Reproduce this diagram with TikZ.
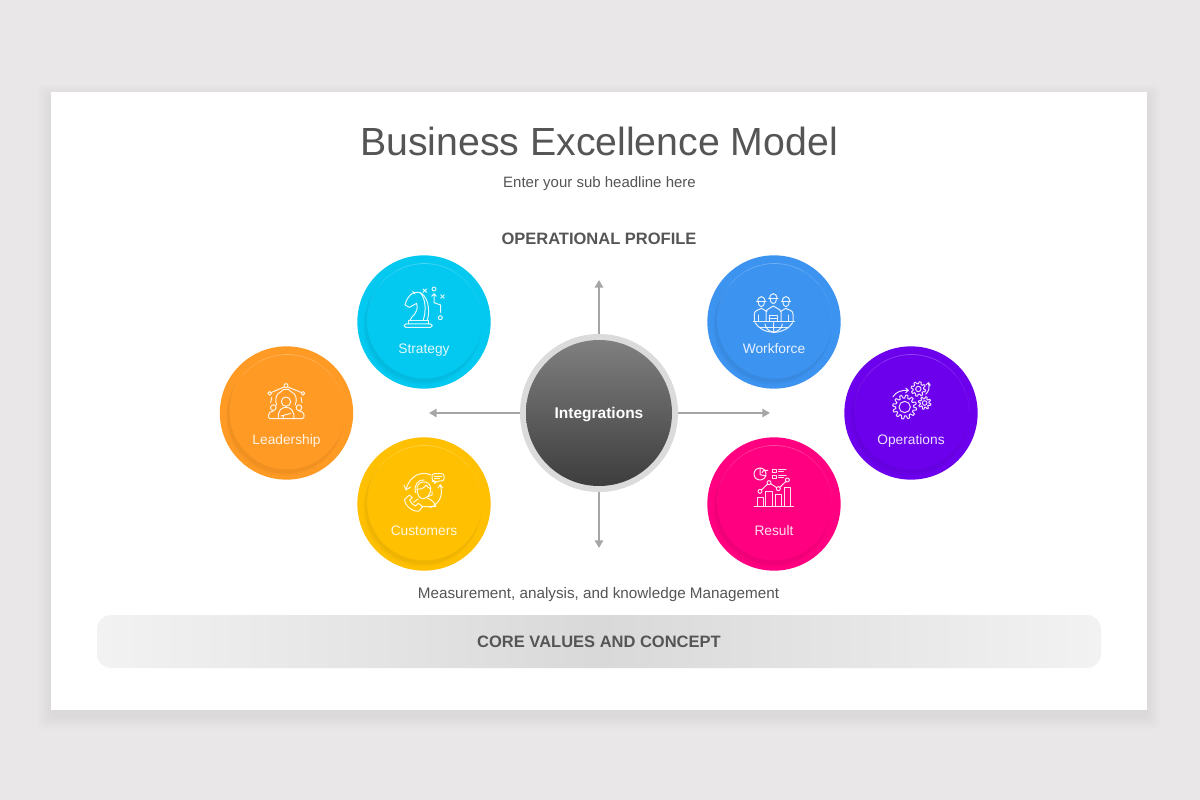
\documentclass[tikz,border=0pt]{standalone}
\usepackage{fontspec}
\setmainfont{Liberation Sans}
\usetikzlibrary{arrows.meta}
\definecolor{pagebg}{HTML}{E9E7E8}
\definecolor{ink}{HTML}{555555}
\definecolor{cStrategy}{HTML}{03C8EF}
\definecolor{cLeader}{HTML}{FF9A24}
\definecolor{cCustomer}{HTML}{FFC001}
\definecolor{cWork}{HTML}{3C93F0}
\definecolor{cOper}{HTML}{6C00EC}
\definecolor{cResult}{HTML}{FF0080}
\definecolor{arrowgrey}{HTML}{A6A6A6}
\tikzset{
  x=0.6pt,y=-0.6pt,
  disc/.style={circle,draw=none,inner sep=0pt,outer sep=0pt,minimum size=80pt,fill=#1},
  label text/.style={text=white,font=\fontsize{8.25pt}{10pt}\selectfont,inner sep=0pt,opacity=.88,anchor=base},
  conn/.style={draw=arrowgrey,line width=1.1pt,-{Triangle[length=4.6pt,width=5pt]}},
  icon/.style={draw=white,draw opacity=.88,line width=.6pt,line cap=round,line join=round,fill=none},
  heading/.style={text=ink,inner sep=0pt},
}
% colour name, centre x, centre y, node name, label
\newcommand{\spoke}[5]{%
  \node[disc=#1] (#4) at (#2,#3) {};
  \fill[#1!86!black,opacity=.18] (#2-1.5,#3+3.5) circle[radius=59];
  \fill[#1!86!black,opacity=.28] (#2-1,#3+2.5) circle[radius=58];
  \fill[#1] (#2+.5,#3-1) circle[radius=57.5];
  \foreach \s/\o in {0/.04,20/.08,40/.14,60/.22,80/.28,100/.22,120/.14,140/.08,160/.04}
    \draw[white,opacity=\o,line width=.45pt] ({#2+.5+57.5*cos(\s)},{#3-1-57.5*sin(\s)})
      arc[start angle=\s,end angle=\s+20,x radius=57.5,y radius=-57.5];
  \node[label text] (#4-label) at (#2,#3+31) {#5};
}
\newcommand{\gearshape}[5]{% x y inner outer teeth
  \begin{scope}[shift={(#1,#2)}]
    \foreach \k in {1,...,#5}{
      \pgfmathsetmacro{\aa}{360/#5*\k}
      \pgfmathsetmacro{\st}{360/#5}
      \draw[icon] (\aa:#3) -- (\aa+.18*\st:#4) -- (\aa+.5*\st:#4) -- (\aa+.68*\st:#3) -- (\aa+\st:#3);
    }
  \end{scope}
}
\begin{document}
\begin{tikzpicture}
\useasboundingbox (0,0) rectangle (1200,800);
\fill[pagebg] (0,0) rectangle (1200,800);
% card shadow
\foreach \d in {1,...,14}
  \fill[black,opacity=.0055,rounded corners=4pt] (51-\d,92-\d+6) rectangle (1147+\d,710+\d+6);
\node[fill=white,inner sep=0pt,outer sep=0pt,minimum width=657.6pt,minimum height=370.8pt] (card) at (599,401) {};

\node[heading,font=\fontsize{23.55pt}{28pt}\selectfont] (title) at (599,141) {Business Excellence Model};
\node[heading,font=\fontsize{9pt}{11pt}\selectfont] (sub) at (599.5,183.5) {Enter your sub headline here};
\node[heading,font=\bfseries\fontsize{9.9pt}{12pt}\selectfont] (profile) at (599,238.5) {OPERATIONAL PROFILE};
\node[heading,font=\fontsize{9.15pt}{11pt}\selectfont] (measure) at (598.5,595) {Measurement, analysis, and knowledge Management};

% bar
\shade[rounded corners=8.5pt,left color=gray!10,right color=gray!10,middle color=gray!30] (97,615) rectangle (1101,668);
\node[heading,font=\bfseries\fontsize{9.9pt}{12pt}\selectfont] (core) at (599,642) {CORE VALUES AND CONCEPT};

% hub
\node[disc=black!14,minimum size=94.8pt] (ring) at (599,413) {};
\node[circle,inner sep=0pt,outer sep=0pt,minimum size=87.6pt,top color=black!50,bottom color=black!76,text=white,text height=6.6pt,text depth=0pt,font=\bfseries\fontsize{9.3pt}{11pt}\selectfont] (hub) at (599,413) {Integrations};

% arrows
\coordinate (upEnd) at (599,280);
\coordinate (downEnd) at (599,548);
\coordinate (leftEnd) at (429,413);
\coordinate (rightEnd) at (770,413);
\draw[conn] (ring.north) -- (upEnd);
\draw[conn] (ring.south) -- (downEnd);
\draw[conn] (ring.west) -- (leftEnd);
\draw[conn] (ring.east) -- (rightEnd);

% spokes
\spoke{cStrategy}{424}{322}{strategy}{Strategy}
\spoke{cLeader}{286.5}{413}{leadership}{Leadership}
\spoke{cCustomer}{424}{504}{customers}{Customers}
\spoke{cWork}{774}{322}{workforce}{Workforce}
\spoke{cOper}{911}{413}{operations}{Operations}
\spoke{cResult}{774}{504}{result}{Result}

% ---- Strategy icon
\begin{scope}[shift={(350,250)},x=.2pt,y=-.2pt]
 \draw[icon,rounded corners=1pt] (162,222) rectangle (247,232);
 \draw[icon] (175,222) -- (175,211) -- (235,211) -- (235,222);
 \draw[icon] (180,211) .. controls (182,198) and (208,192) .. (200,160) -- (178,172) -- (165,165) .. controls (168,148) and (180,132) .. (192,128) -- (207,127) .. controls (232,135) and (242,175) .. (232,211);
 \draw[icon] (188,124) -- (195,132);
 \draw[icon] (212,128) .. controls (228,150) and (228,185) .. (220,209);
 \draw[icon] (219,117) -- (230,127) (230,117) -- (219,127);
 \draw[icon] (272,134) -- (283,145) (283,134) -- (272,145);
 \draw[icon] (252,117) circle[radius=6];
 \draw[icon] (271,203) circle[radius=6];
 \draw[icon] (272,188) -- (272,165) -- (252,158) -- (252,131) (245,139) -- (252,131) -- (259,139);
\end{scope}
% ---- Leadership icon
\begin{scope}[shift={(215,340)},x=.2pt,y=-.2pt]
 \draw[icon] (213,137) circle[radius=6];
 \draw[icon] (164,160) circle[radius=5.5];
 \draw[icon] (264,160) circle[radius=5.5];
 \draw[icon] (170,157) -- (207,141) (219,141) -- (258,157);
 \draw[icon] (170,172) -- (167,188) (258,172) -- (261,188);
 \draw[icon] (185,195) .. controls (178,175) and (185,160) .. (198,155) -- (206,148) -- (220,148) -- (228,155) .. controls (242,160) and (248,175) .. (241,195);
 \draw[icon] (213,185) circle[radius=14];
 \draw[icon] (190,236) .. controls (188,210) and (200,202) .. (213,202) .. controls (226,202) and (238,210) .. (237,236) -- cycle;
 \draw[icon] (198,228) -- (228,220) (205,236) -- (205,226);
 \draw[icon] (175,203) circle[radius=8.5];
 \draw[icon] (252,203) circle[radius=8.5];
 \draw[icon] (190,236) -- (165,236) .. controls (158,236) and (157,213) .. (175,213);
 \draw[icon] (237,236) -- (262,236) .. controls (270,236) and (271,213) .. (252,213);
\end{scope}
% ---- Customers icon
\begin{scope}[shift={(350,430)},x=.2pt,y=-.2pt]
 \draw[icon] (243,135) .. controls (215,122) and (180,135) .. (168,178);
 \draw[icon] (162,165) -- (168,180) -- (182,171);
 \draw[icon] (271,166) .. controls (280,195) and (270,220) .. (240,233);
 \draw[icon] (264,174) -- (271,164) -- (278,174);
 \draw[icon,rounded corners=1.5pt] (246,131) -- (282,131) -- (282,153) -- (262,153) -- (254,160) -- (254,153) -- (246,153) -- cycle;
 \draw[icon] (253,139) -- (275,139) (253,146) -- (268,146);
 \draw[icon] (201,178) .. controls (198,155) and (235,145) .. (242,172) .. controls (244,195) and (228,207) .. (218,206) .. controls (208,205) and (202,195) .. (201,178);
 \draw[icon] (201,178) .. controls (215,178) and (225,172) .. (228,165) .. controls (232,172) and (238,175) .. (242,176);
 \draw[icon] (197,188) .. controls (190,165) and (205,148) .. (222,150);
 \draw[icon] (246,185) -- (246,195) -- (232,200);
 \draw[icon] (205,207) -- (190,217) (232,204) .. controls (250,212) and (255,220) .. (258,230) -- (215,230);
 \draw[icon] (178,195) -- (164,208) .. controls (162,225) and (190,248) .. (207,243) -- (218,230) -- (205,220) -- (196,228) .. controls (188,224) and (182,218) .. (179,210) -- (187,203) -- cycle;
\end{scope}
% ---- Workforce icon
\begin{scope}[shift={(700,250)},x=.2pt,y=-.2pt]
 \draw[icon] (160,215) -- (283,215);
 \draw[icon] (165,218) .. controls (175,235) and (198,247) .. (221,247) .. controls (245,247) and (268,235) .. (278,218);
 \draw[icon] (221,218) -- (221,247) (195,222) .. controls (197,235) and (205,243) .. (221,247) .. controls (237,243) and (245,235) .. (247,222);
 \draw[icon] (180,234) -- (262,234);
 \foreach \hx/\hy in {184/157,258/157,220/148}{
   \draw[icon] (\hx-14,\hy-2) -- (\hx+14,\hy-2);
   \draw[icon] (\hx-11,\hy-2) .. controls (\hx-11,\hy-22) and (\hx+11,\hy-22) .. (\hx+11,\hy-2);
   \draw[icon] (\hx-9,\hy-2) .. controls (\hx-9,\hy+18) and (\hx+9,\hy+18) .. (\hx+9,\hy-2);
 }
 \draw[icon] (163,214) -- (163,192) .. controls (163,180) and (178,180) .. (184,175) .. controls (190,180) and (197,180) .. (201,185);
 \draw[icon] (279,214) -- (279,192) .. controls (279,180) and (264,180) .. (258,175) .. controls (252,180) and (245,180) .. (241,185);
 \draw[icon] (198,214) -- (198,185) .. controls (200,176) and (212,175) .. (220,168) .. controls (228,175) and (240,176) .. (243,185) -- (243,214);
 \draw[icon] (207,214) -- (207,196) -- (233,196) -- (233,214) (176,214) -- (176,195) (266,214) -- (266,195) (207,205) -- (233,205);
\end{scope}
% ---- Operations icon
\begin{scope}[shift={(838,340)},x=.2pt,y=-.2pt]
 \gearshape{200}{201}{27}{36}{12}
 \draw[icon] (200,201) circle[radius=17];
 \gearshape{241}{147}{16}{22}{8}
 \draw[icon] (241,147) circle[radius=8];
 \gearshape{260}{189}{13}{19}{8}
 \draw[icon] (260,189) circle[radius=7];
 \draw[icon] (165,170) .. controls (175,155) and (190,150) .. (210,151) (203,144) -- (211,151) -- (203,158);
 \draw[icon] (263,163) .. controls (272,155) and (276,142) .. (271,129) (264,135) -- (271,128) -- (277,136);
\end{scope}
% ---- Result icon
\begin{scope}[shift={(700,430)},x=.2pt,y=-.2pt]
 \draw[icon] (180,132) circle[radius=18];
 \draw[icon] (180,114) -- (180,134) -- (198,138);
 \draw[icon] (192,121) -- (203,121) (186,128) -- (191,121);
 \draw[icon] (218,118) rectangle (230,127);
 \draw[icon] (218,136) rectangle (230,145);
 \draw[icon] (236,119) -- (258,119) (236,126) -- (250,126) (236,137) -- (258,137) (236,144) -- (250,144);
 \draw[icon] (180,184) circle[radius=6];
 \draw[icon] (207,158) circle[radius=6];
 \draw[icon] (235,176) circle[radius=6];
 \draw[icon] (262,150) circle[radius=6];
 \draw[icon] (184,180) -- (203,162) (212,161) -- (230,173) (239,172) -- (258,154);
 \draw[icon] (172,228) -- (172,204) -- (190,204) -- (190,228);
 \draw[icon] (197,228) -- (197,184) -- (218,184) -- (218,228);
 \draw[icon] (225,228) -- (225,194) -- (245,194) -- (245,228);
 \draw[icon] (252,228) -- (252,172) -- (270,172) -- (270,228);
 \draw[icon] (162,229) -- (280,229);
\end{scope}
\end{tikzpicture}
\end{document}
